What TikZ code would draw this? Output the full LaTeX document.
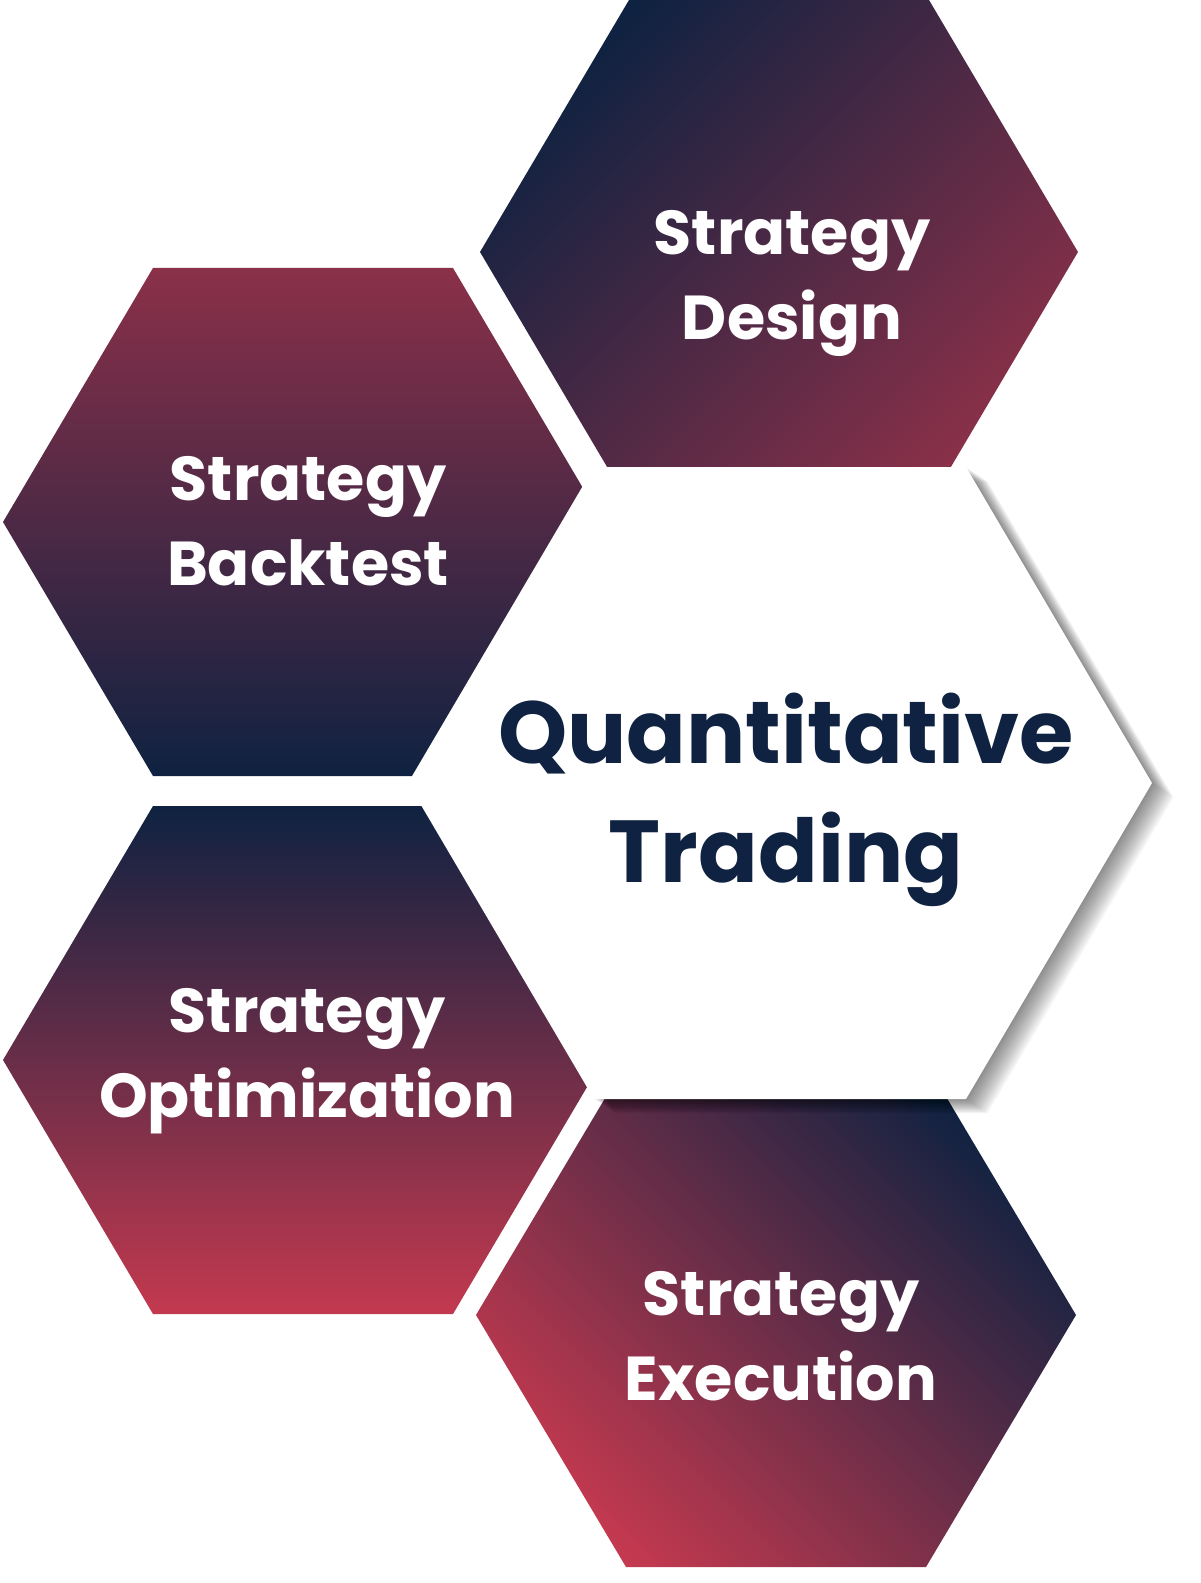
\documentclass[tikz,border=0pt]{standalone}
\usepackage{fontspec}
\setmainfont{Poppins}
\definecolor{hexnavy}{HTML}{0F2241}
\definecolor{hexwine}{HTML}{8B3049}
\definecolor{hexcrimson}{HTML}{C3394F}

\begin{document}
\begin{tikzpicture}
  [x=0.5pt, y=-0.5pt,
   phase/.style={text=white, font=\bfseries\fontsize{31}{42.5}\selectfont, align=center, anchor=base},
   hub/.style={text=hexnavy, font=\bfseries\fontsize{44}{59.5}\selectfont, align=center, anchor=base}]
  \useasboundingbox (0,0) rectangle (1200,1583);
  % strategy design
  \shade[top color=hexnavy, middle color=hexnavy!78!hexwine, bottom color=hexwine, shading angle=45]
    (629,0) -- (929,0) -- (1078,252) -- (929,504) -- (629,504) -- (480,252) -- cycle;
  % strategy backtest
  \shade[top color=hexwine, middle color=hexnavy!55!hexwine, bottom color=hexnavy]
    (153,268) -- (453,268) -- (603,522) -- (453,776) -- (153,776) -- (3,522) -- cycle;
  % strategy optimization
  \shade[top color=hexnavy, middle color=hexnavy!45!hexwine, bottom color=hexcrimson]
    (153,806) -- (453,806) -- (603,1060) -- (453,1314) -- (153,1314) -- (3,1060) -- cycle;
  % strategy execution
  \shade[top color=hexnavy, middle color=hexnavy!55!hexwine, bottom color=hexcrimson, shading angle=-45]
    (626,1063) -- (926,1063) -- (1076,1315) -- (926,1567) -- (626,1567) -- (476,1315) -- cycle;
  % soft shadow under the hub
  \foreach \s in {1,...,18}
    \fill[black, opacity=0.03, shift={(1.2*\s,0.8*\s)}]
      (594,467) -- (966,467) -- (1152,783) -- (966,1099) -- (594,1099) -- (408,783) -- cycle;
  \fill[white]
    (594,467) -- (966,467) -- (1152,783) -- (966,1099) -- (594,1099) -- (408,783) -- cycle;

  \node[phase] (design) at (792,340) {Strategy\\Design};
  \node[phase] (backtest) at (308,585) {Strategy\\Backtest};
  \node[phase] (optim) at (307,1117) {Strategy\\Optimization};
  \node[phase] (exec) at (781,1400) {Strategy\\Execution};
  \node[hub] (quant) at (786,882) {Quantitative\\Trading};
\end{tikzpicture}
\end{document}
